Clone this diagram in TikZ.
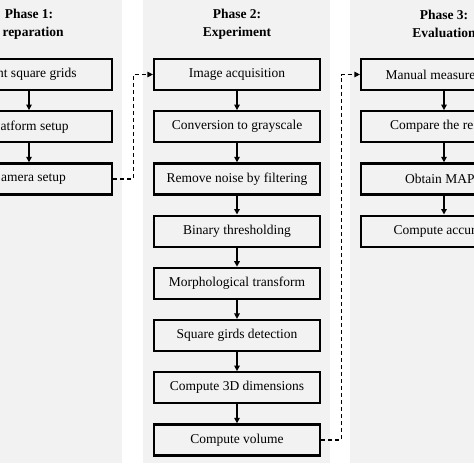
\documentclass[tikz,border=0pt]{standalone}
\usepackage{fontspec}
\setmainfont{Liberation Serif}
\usetikzlibrary{positioning,arrows.meta}
\definecolor{panelgray}{HTML}{F2F2F2}

\begin{document}
\begin{tikzpicture}[x=1pt, y=-1pt, >={Triangle[length=5.5pt,width=5.5pt]},
  node distance=19pt,
  stepbox/.style={draw, line width=2.2pt, minimum width=166pt,
                  minimum height=31pt, inner sep=0pt,
                  font=\fontsize{13.5}{16}\selectfont},
  phase/.style={align=center, font=\fontsize{13.5}{18}\selectfont\bfseries},
  flow/.style={->, line width=1.5pt},
  link/.style={->, line width=1.2pt, dash pattern=on 4pt off 3pt}]
  \useasboundingbox (0,0) rectangle (474,474);
  \clip (0,0) rectangle (474,474);
  % background panels
  \fill[panelgray] (-70,0) rectangle (122,463);
  \fill[panelgray] (143,0) rectangle (330,463);
  \fill[panelgray] (350,0) rectangle (540,463);

  % titles
  \node (t1) [phase] at (29,24)  {Phase 1:\\\phantom{P}reparation};
  \node (t2) [phase] at (237,24) {Phase 2:\\Experiment};
  \node (t3) [phase] at (444,24) {Phase 3:\\Evaluation};

  % phase 1 (cut off at the left edge)
  \node (p1) [stepbox] at (29,74.5) {\phantom{Pri}nt square grids};
  \node (p2) [stepbox, below=of p1] {\phantom{Pl}atform setup};
  \node (p3) [stepbox, below=of p2] {\phantom{C}amera setup};

  % phase 2
  \node (e1) [stepbox] at (237,74.5) {Image acquisition};
  \node (e2) [stepbox, below=of e1] {Conversion to grayscale};
  \node (e3) [stepbox, below=of e2] {Remove noise by filtering};
  \node (e4) [stepbox, below=of e3] {Binary thresholding};
  \node (e5) [stepbox, below=of e4] {Morphological transform};
  \node (e6) [stepbox, below=of e5] {Square girds detection};
  \node (e7) [stepbox, below=of e6] {Compute 3D dimensions};
  \node (e8) [stepbox, below=of e7] {Compute volume};

  % phase 3 (cut off at the right edge)
  \node (v1) [stepbox] at (444,74.5) {Manual measure\phantom{ment}};
  \node (v2) [stepbox, below=of v1] {Compare the re\phantom{sults}};
  \node (v3) [stepbox, below=of v2] {Obtain MAP\phantom{E}};
  \node (v4) [stepbox, below=of v3] {Compute accur\phantom{acy}};

  \draw[flow] (p1) -- (p2);
  \draw[flow] (p2) -- (p3);
  \foreach \a/\b in {e1/e2,e2/e3,e3/e4,e4/e5,e5/e6,e6/e7,e7/e8,v1/v2,v2/v3,v3/v4}
    \draw[flow] (\a) -- (\b);

  % links between phases
  \draw[link] (p3.east) -- ++(20,0) |- (e1.west);
  \draw[link] (e8.east) -- ++(20,0) |- (v1.west);
\end{tikzpicture}
\end{document}
